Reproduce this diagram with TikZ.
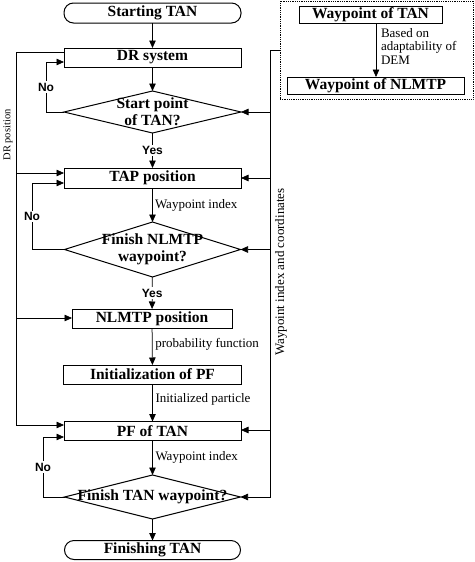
\documentclass[tikz,border=0pt]{standalone}
\usepackage{fontspec}
\setmainfont{Liberation Serif}
\newfontfamily\lsans{Liberation Sans}
\usetikzlibrary{arrows.meta,shapes.geometric}
\begin{document}
\begin{tikzpicture}[x=1pt,y=-1pt,
  every node/.style={inner sep=0pt, outer sep=0pt},
  box/.style={draw, line width=1pt, minimum height=19pt, font=\fontsize{15.5}{17}\selectfont\bfseries},
  term/.style={box, rounded corners=9.5pt},
  dia/.style={draw, diamond, line width=1pt},
  dtext/.style={align=center, font=\fontsize{15.5}{17}\selectfont\bfseries},
  lab/.style={font=\fontsize{13}{15}\selectfont, anchor=west},
  yn/.style={fill=white, font=\lsans\bfseries\fontsize{12}{14}\selectfont, inner sep=1.5pt},
  conn/.style={line width=0.75pt},
  arr/.style={conn, -{Triangle[length=7.5pt,width=6.5pt]}},
]
\useasboundingbox (0,0) rectangle (474,562);

% main column
\node[term, minimum width=177pt, minimum height=20pt] (start) at (152.5,13) {Starting TAN};
\node[box, minimum width=177pt] (dr) at (152.5,57.5) {DR system};
\node[dia, minimum width=177pt, minimum height=42pt] (d1) at (152.5,112) {};
\node[dtext] (d1t) at (152.5,112) {Start point\\of TAN?};
\node[box, minimum width=177pt, minimum height=20pt] (tap) at (152.5,178) {TAP position};
\node[dia, minimum width=176pt, minimum height=55pt] (d2) at (152.5,249.5) {};
\node[dtext] (d2t) at (152.5,249) {Finish NLMTP\\waypoint?};
\node[box, minimum width=160pt] (nlmtp) at (152,318.5) {NLMTP position};
\node[box, minimum width=178pt] (init) at (152.5,374.5) {Initialization of PF};
\node[box, minimum width=177pt] (pf) at (152.5,431) {PF of TAN};
\node[dia, minimum width=176pt, minimum height=44pt] (d3) at (152.5,497) {};
\node[dtext] (d3t) at (152.5,497) {Finish TAN waypoint?};
\node[term, minimum width=176pt] (fin) at (152.5,550) {Finishing TAN};

% right top group
\node[draw, densely dotted, line width=0.8pt, minimum width=193pt, minimum height=98pt] (wbox) at (376.5,50) {};
\node[box, minimum width=143pt, minimum height=17pt] (wtan) at (370.5,15) {Waypoint of TAN};
\node[box, minimum width=177pt, minimum height=17pt] (wnl) at (375.5,85.5) {Waypoint of NLMTP};
\draw[arr] ([xshift=5.5pt]wtan.south) -- ([xshift=5.5pt]wtan.south |- wnl.north);
\node[align=left, anchor=north west, font=\fontsize{13}{13.5}\selectfont] (based) at (381,28) {Based on\\adaptability of\\DEM};

% main flow
\draw[arr] (start) -- (dr);
\draw[arr] (dr) -- (d1);
\draw[arr] (d1) -- node[yn] {Yes} (tap);
\draw[arr] (tap) -- node[lab, xshift=2.5pt] {Waypoint index} (d2);
\draw[arr] (d2) -- node[yn] {Yes} (nlmtp);
\draw[arr] (nlmtp) -- node[lab, xshift=3pt, yshift=2pt] {probability function} (init);
\draw[arr] (init) -- node[lab, xshift=3pt, yshift=3pt] {Initialized particle} (pf);
\draw[arr] (pf) -- node[lab, xshift=3pt] {Waypoint index} (d3);
\draw[arr] (d3) -- (fin);

% No loops
\draw[arr] (d1.west) -- (46,112) -- node[yn] {No} (46,62) -- (dr.west |- 0,62);
\draw[arr] (d2.west) -- (32,249.5) -- node[yn] {No} (32,183) -- (tap.west |- 0,183);
\draw[arr] (d3.west) -- (43,497) -- node[yn] {No} (43,437) -- (pf.west |- 0,437);

% DR position line
\draw[arr] (dr.west |- 0,52) -- (16,52) -- (16,425) -- (pf.west |- 0,425);
\draw[arr] (16,173) -- (tap.west |- 0,173);
\draw[arr] (16,318) -- (nlmtp.west |- 0,318);
\node[rotate=90, font=\fontsize{10.5}{12}\selectfont] (drpos) at (8,135) {DR position};

% Waypoint line
\draw[arr] (wbox.west |- 0,50) -- (270,50) -- (270,497) -- (d3.east);
\draw[arr] (270,112) -- (d1.east);
\draw[arr] (270,178) -- (tap.east);
\draw[arr] (270,249.5) -- (d2.east);
\draw[arr] (270,430) -- (pf.east |- 0,430);
\node[rotate=90, font=\fontsize{13}{15}\selectfont] (wic) at (281,272) {Waypoint index and coordinates};
\end{tikzpicture}
\end{document}
